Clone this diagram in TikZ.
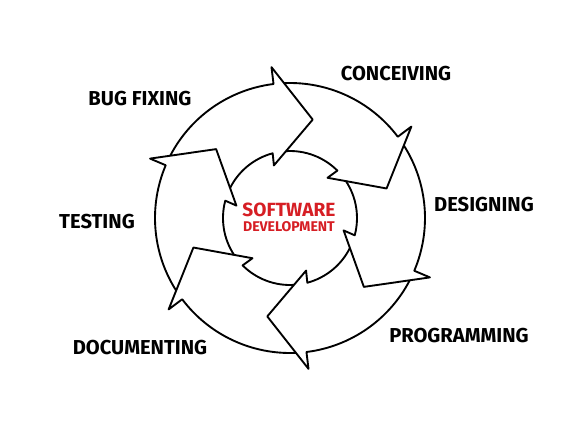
\documentclass[tikz,border=0pt]{standalone}
\usepackage{fontspec}
\newfontfamily\schrift{Fira Sans}
\usepackage{tikz}
\definecolor{rot}{RGB}{214,30,36}

\begin{document}
\begin{tikzpicture}[x=0.03cm, y=0.03cm, line width=1.6pt, line join=round,
    etikett/.style={font=\schrift\bfseries\fontsize{17.2}{19}\selectfont, inner sep=0pt},
    mitte/.style={text=rot, inner sep=0pt}]
    \useasboundingbox (-290,-217) rectangle (286,218);

    % Pfeile.
    \foreach \t in {77,17,-43,-103,-163,137}
    {
        \draw ({\t+75.5}:135) arc[start angle=\t+75.5, end angle=\t+20, radius=135]
            -- ({\t+20}:152) -- (\t:101) -- ({\t+30}:55) -- ({\t+28}:67)
            arc[start angle=\t+28, end angle=\t+76.5, radius=67];
    }

    % Beschriftung.
    \node[etikett] (conceiving) at (106,144) {CONCEIVING};
    \node[etikett] (designing) at (194,13) {DESIGNING};
    \node[etikett] (programming) at (169,-118) {PROGRAMMING};
    \node[etikett] (documenting) at (-150,-130) {DOCUMENTING};
    \node[etikett] (testing) at (-193,-4) {TESTING};
    \node[etikett] (bugfixing) at (-150,119) {BUG FIXING};

    \node[mitte, font=\schrift\bfseries\fontsize{16.3}{18}\selectfont] (software) at (-1,8) {SOFTWARE};
    \node[mitte, font=\schrift\bfseries\fontsize{12}{14}\selectfont] (development) at (-1,-9) {DEVELOPMENT};
\end{tikzpicture}
\end{document}
